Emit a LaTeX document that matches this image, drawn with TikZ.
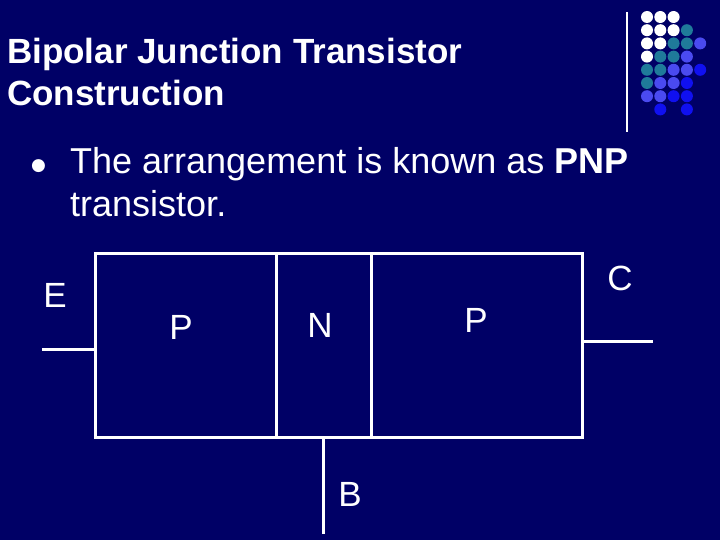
\documentclass[tikz,border=0pt]{standalone}
\usepackage{fontspec}
\setmainfont{Liberation Sans}
\newfontfamily\dejavu{DejaVu Sans}
\definecolor{bg}{HTML}{000066}
\definecolor{W}{HTML}{FFFFFF}
\definecolor{T}{HTML}{1F7A9A}
\definecolor{M}{HTML}{4A4AF0}
\definecolor{B}{HTML}{1010F0}
\definecolor{N}{HTML}{000066}
\begin{document}
\begin{tikzpicture}[x=1pt,y=-1pt,
  txt/.style={text=white,inner sep=0,font=\fontsize{35}{40}\selectfont},
  wl/.style={draw=white,line width=3pt}]
\fill[bg] (0,0) rectangle (720,540);
\useasboundingbox (0,0) rectangle (720,540);
\node[txt,anchor=base west,font=\fontsize{35}{40}\selectfont\bfseries] (title) at (7,64) {Bipolar Junction Transistor};
\node[txt,anchor=base west,font=\fontsize{35}{40}\selectfont\bfseries] (title2) at (7,106) {Construction};
\draw[white,line width=1.2pt] (627,12) coordinate (va) -- (627,132) coordinate (vb);
\foreach \r/\a/\b/\c/\d/\e in {0/W/W/W/N/N,1/W/W/W/T/N,2/W/W/T/T/M,3/W/T/T/M/N,4/T/T/M/M/B,5/T/M/M/B/N,6/M/M/B/B/N,7/N/B/N/B/N}{
  \fill[\a] (647,17+13.2*\r) circle (6);
  \fill[\b] (660.3,17+13.2*\r) circle (6);
  \fill[\c] (673.6,17+13.2*\r) circle (6);
  \fill[\d] (686.9,17+13.2*\r) circle (6);
  \fill[\e] (700.2,17+13.2*\r) circle (6);
}
\node[txt,anchor=base west,font=\dejavu\fontsize{17}{17}\selectfont] (bul) at (31,171) {●};
\node[txt,anchor=base west,font=\fontsize{36}{40}\selectfont] (line1) at (70,174) {The arrangement is known as \textbf{PNP}};
\node[txt,anchor=base west,font=\fontsize{36}{40}\selectfont] (line2) at (70,217) {transistor.};
\draw[wl] (95,253) rectangle (582,437);
\draw[wl] (276,253) -- (276,437);
\draw[wl] (371,253) -- (371,437);
\coordinate (e1) at (42,349); \coordinate (e2) at (95,349);
\coordinate (c1) at (584,341); \coordinate (c2) at (653,341);
\coordinate (b1) at (323,437); \coordinate (b2) at (323,534);
\draw[wl] (e1) -- (e2);
\draw[wl] (c1) -- (c2);
\draw[wl] (b1) -- (b2);
\node[txt] (E) at (55,295) {E};
\node[txt] (P1) at (181,327) {P};
\node[txt] (N) at (320,325) {N};
\node[txt] (P2) at (476,320) {P};
\node[txt] (C) at (620,278) {C};
\node[txt] (B) at (350,494) {B};
\end{tikzpicture}
\end{document}
